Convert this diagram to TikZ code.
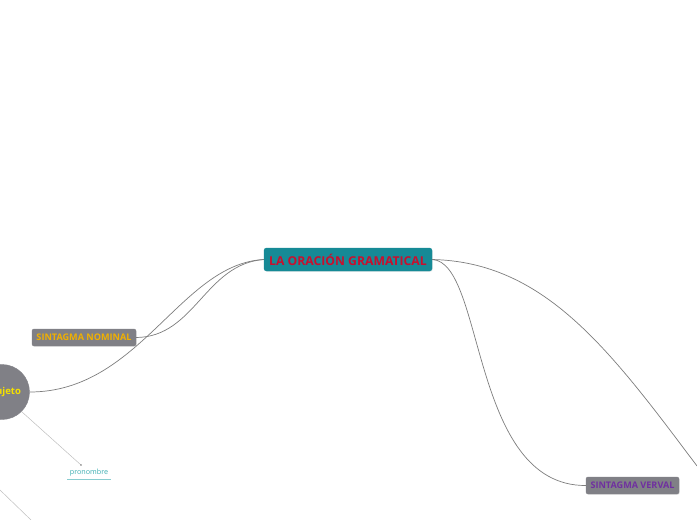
\documentclass[tikz,border=0pt]{standalone}
\usepackage{fontspec}
\setmainfont{Open Sans}
\usepackage{tikz}
\usetikzlibrary{positioning, shadows}
\definecolor{topicteal}{RGB}{22,138,150}
\definecolor{titlered}{RGB}{200,16,46}
\definecolor{boxgrey}{RGB}{128,128,134}
\definecolor{nominalorange}{RGB}{240,176,0}
\definecolor{verbpurple}{RGB}{112,48,160}
\definecolor{subjyellow}{RGB}{245,224,0}
\definecolor{leafteal}{RGB}{58,172,176}
\definecolor{linkgrey}{RGB}{125,125,125}

\begin{document}
\begin{tikzpicture}[x=1pt, y=-1pt,
    branch/.style={draw=boxgrey, fill=boxgrey, rounded corners=2pt, inner sep=0pt, minimum height=17pt, drop shadow={opacity=0.15, shadow xshift=0.8pt, shadow yshift=-0.8pt}},
    link/.style={linkgrey, line width=0.7pt}]
    \useasboundingbox (0,0) rectangle (697,520);
    % Main topic
    \node[draw=topicteal, fill=topicteal, rounded corners=2.5pt, minimum width=168pt, minimum height=23pt, inner sep=0pt, drop shadow={opacity=0.15, shadow xshift=0.8pt, shadow yshift=-0.8pt}] (main) at (348,259.5) {\fontsize{12.2}{14}\selectfont\bfseries\color{titlered}LA ORACIÓN GRAMATICAL};
    
    % Left branches
    \node[branch, minimum width=104pt] (nominal) at (84,337.5) {\fontsize{9.1}{11}\selectfont\bfseries\color{nominalorange}SINTAGMA NOMINAL};
    \node[circle, draw=boxgrey, fill=boxgrey, minimum size=55pt, inner sep=0pt] (sujeto) at (2,392) {};
    \node[xshift=4pt] at (sujeto) {\fontsize{9.5}{11}\selectfont\bfseries\color{subjyellow}Sujeto};
    \node[inner sep=1pt] (pronombre) at (89,473) {\fontsize{7.2}{9}\selectfont\color{leafteal}pronombre};
    \draw[leafteal!60, line width=0.5pt] (67,479) -- (111,479);
    \coordinate (pron end) at (81,465);
    \coordinate (low a) at (0,490);
    \coordinate (low b) at (31,520);
    
    % Right branches
    \node[branch, minimum width=93pt] (verval) at (632.5,485.5) {\fontsize{9.1}{11}\selectfont\bfseries\color{verbpurple}SINTAGMA VERVAL};
    \coordinate (right out) at (697,466);
    
    % Connectors
    \draw[link] (main.west) .. controls (205,264) and (195,337) .. (nominal.east);
    \draw[link] (main.west) .. controls (180,264) and (140,392) .. (sujeto.east);
    \draw[link] (main.east) .. controls (485,262) and (470,486) .. (verval.west);
    \draw[link] (main.east) .. controls (545,262) and (610,350) .. (right out);
    \draw[linkgrey!50, line width=0.5pt] (sujeto.-45) -- (pron end);
    \fill[linkgrey] (pron end) circle (0.8pt);
    \draw[linkgrey!50, line width=0.5pt] (low a) -- (low b);
\end{tikzpicture}
\end{document}
